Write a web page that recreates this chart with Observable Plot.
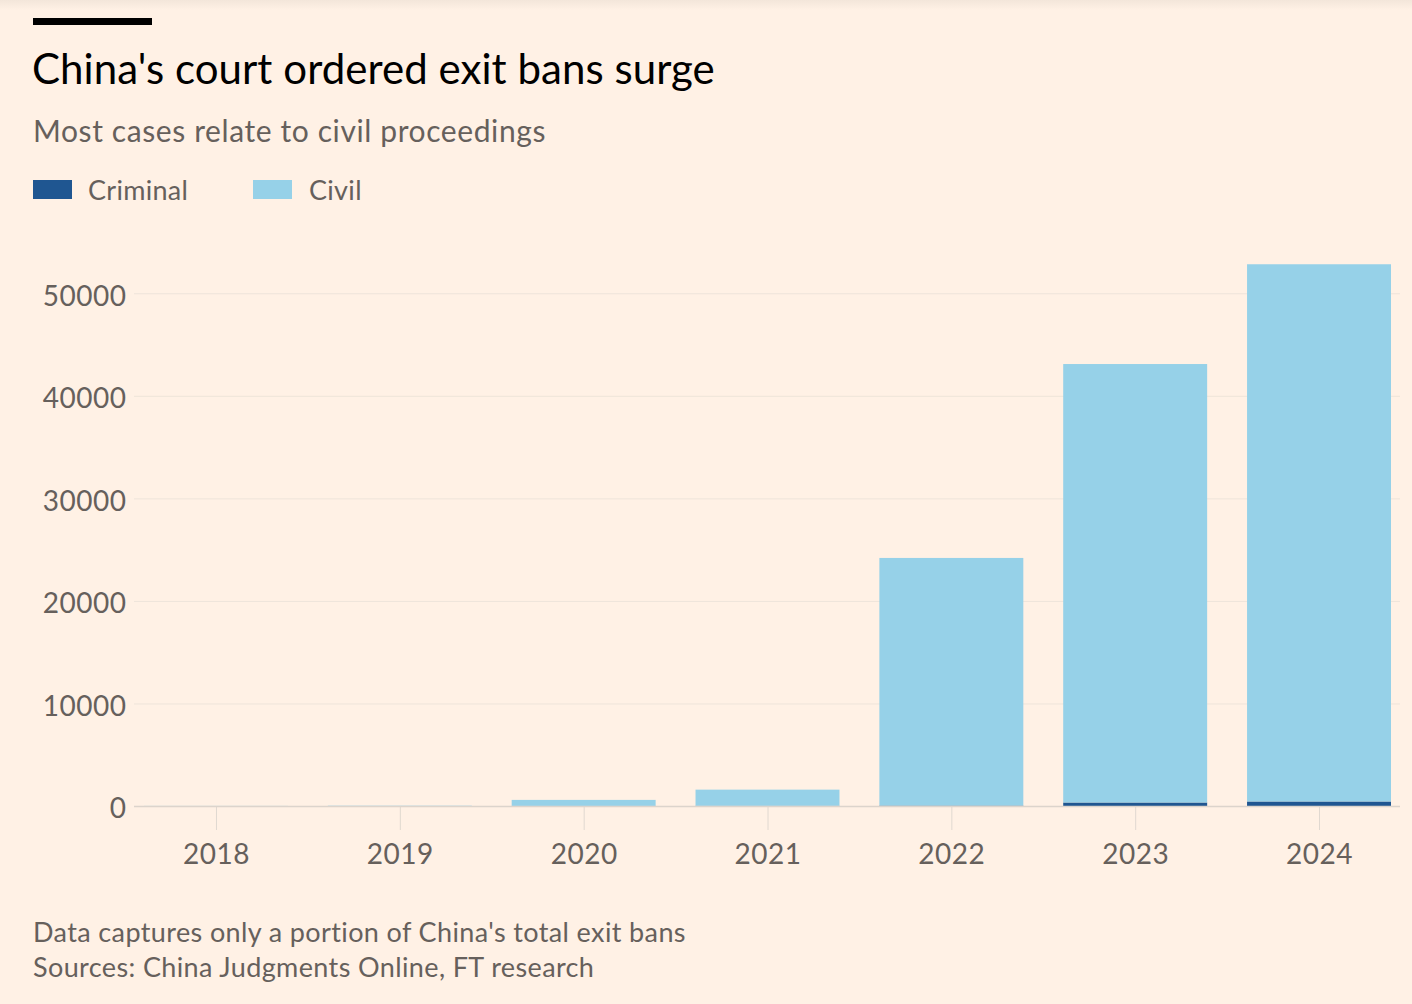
<!DOCTYPE html>
<html>
<head>
<meta charset="utf-8">
<script src="https://cdn.jsdelivr.net/npm/d3@7"></script>
<script src="https://cdn.jsdelivr.net/npm/@observablehq/plot@0.6"></script>
<style>
  html, body { margin: 0; padding: 0; background: #fff1e5; }
  body { width: 1412px; height: 1004px; position: relative; overflow: hidden; font-family: Lato, "Noto Sans", sans-serif; }
  .abs { position: absolute; white-space: nowrap; }
  #shade { left: 0; top: 0; width: 1412px; height: 10px; background: linear-gradient(#f3e6da, #fff1e5); }
  #bar { left: 33px; top: 18px; width: 119px; height: 7px; background: #000; }
  #title { left: 32px; top: 40px; font-size: 42px; color: #000; line-height: 56px; letter-spacing: 0.05px; }
  #subtitle { left: 33px; top: 110px; font-size: 30px; color: #66605c; line-height: 40px; letter-spacing: 0.6px; }
  .sw { width: 39px; height: 19px; top: 180px; }
  .lg { top: 171px; font-size: 27px; color: #66605c; line-height: 38px; letter-spacing: 0.3px; }
  .foot { left: 33px; font-size: 27px; color: #66605c; line-height: 36px; letter-spacing: 0.38px; }
  #chart { left: 0; top: 220px; }
</style>
</head>
<body>
<div class="abs" id="shade"></div>
<div class="abs" id="bar"></div>
<div class="abs" id="title">China's court ordered exit bans surge</div>
<div class="abs" id="subtitle">Most cases relate to civil proceedings</div>
<div class="abs sw" style="left:33px;background:#1f5691"></div>
<div class="abs lg" style="left:88px">Criminal</div>
<div class="abs sw" style="left:253px;background:#96d1e8"></div>
<div class="abs lg" style="left:309px">Civil</div>
<div class="abs" id="chart"></div>
<div class="abs foot" style="top:914px">Data captures only a portion of China's total exit bans</div>
<div class="abs foot" style="top:949px">Sources: China Judgments Online, FT research</div>
<script>
const years = ["2018", "2019", "2020", "2021", "2022", "2023", "2024"];
const criminal = [0, 0, 5, 15, 40, 340, 440];
const civil = [10, 30, 590, 1580, 24150, 42760, 52390];
const seriesNames = ["Criminal", "Civil"];
const seriesColors = ["#1f5691", "#96d1e8"];
const yTicks = [0, 10000, 20000, 30000, 40000, 50000];

const rows = [];
years.forEach((y, i) => {
  rows.push({year: y, type: "Criminal", value: criminal[i]});
  rows.push({year: y, type: "Civil", value: civil[i]});
});

const chart = Plot.plot({
  width: 1412,
  height: 660,
  marginLeft: 134,
  marginRight: 12,
  marginTop: 22,
  marginBottom: 74,
  style: {background: "transparent", fontFamily: "Lato, 'Noto Sans', sans-serif", fontSize: "28px", color: "#66605c", letterSpacing: "0.5px"},
  x: {domain: years, range: [144, 1391], paddingInner: 0.217, paddingOuter: 0, round: false, label: null},
  y: {domain: [0, 55000], label: null},
  color: {domain: seriesNames, range: seriesColors},
  marks: [
    Plot.ruleY(yTicks.filter(d => d > 0), {stroke: "#eee4da", strokeWidth: 1}),
    Plot.axisX({tickSize: 24, stroke: "#e0d8d0", tickPadding: 14, fill: "#66605c", fontSize: 28}),
    Plot.axisY({ticks: yTicks, tickSize: 0, tickPadding: 8, dy: 3, tickFormat: d => String(d), fill: "#66605c", fontSize: 28}),
    Plot.barY(rows, {x: "year", y: "value", fill: "type", order: seriesNames}),
    Plot.ruleY([0], {stroke: "#dcd4cc", strokeWidth: 1.5})
  ]
});
document.getElementById("chart").appendChild(chart);
</script>
</body>
</html>
